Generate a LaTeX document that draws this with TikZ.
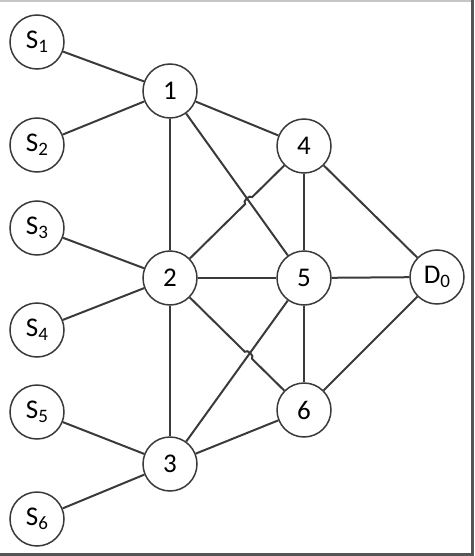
\documentclass[tikz,border=0pt]{standalone}
\usepackage{fontspec}
\setmainfont{Carlito}
\usetikzlibrary{calc}

\definecolor{edgegray}{HTML}{3A3A3A}
\definecolor{framegray}{HTML}{555555}

\tikzset{
  vertex/.style={circle, draw=edgegray, line width=1.5pt, fill=white,
    minimum size=54pt, inner sep=0pt, font=\fontsize{27}{32}\selectfont},
  link/.style={draw=edgegray, line width=2pt},
}
\newcommand{\src}[1]{S\raisebox{-0.3ex}{\fontsize{19}{19}\selectfont #1}}

\begin{document}
\begin{tikzpicture}[x=1pt,y=-1pt]

        \useasboundingbox (0,0) rectangle (474,556);
        \draw[line width=2pt, gray!45] (0,1) -- (474,1);
        \draw[line width=3pt, framegray] (472.5,0) -- (472.5,556);
        \draw[line width=3pt, framegray] (0,554.5) -- (474,554.5);

        % sources
        \node[vertex] (s1) at (37,42) {\src{1}};
        \node[vertex] (s2) at (37,145) {\src{2}};
        \node[vertex] (s3) at (37,228) {\src{3}};
        \node[vertex] (s4) at (37,330) {\src{4}};
        \node[vertex] (s5) at (37,412) {\src{5}};
        \node[vertex] (s6) at (37,519) {\src{6}};

        % relays
        \node[vertex] (n1) at (170,91) {1};
        \node[vertex] (n2) at (170,278) {2};
        \node[vertex] (n3) at (170,464) {3};
        \node[vertex] (n4) at (304,146) {4};
        \node[vertex] (n5) at (304,278) {5};
        \node[vertex] (n6) at (304,410) {6};
        \node[vertex] (d0) at (437,277) {D\raisebox{-0.3ex}{\fontsize{19}{19}\selectfont 0}};

        \path[link] (s1) -- (n1);
        \path[link] (s2) -- (n1);
        \path[link] (s3) -- (n2);
        \path[link] (s4) -- (n2);
        \path[link] (s5) -- (n3);
        \path[link] (s6) -- (n3);
        \path[link] (n1) -- (n2);
        \path[link] (n2) -- (n3);
        \path[link] (n1) -- (n4);
        \path[link] (n1) -- (n5);
        \path[link] (n2) -- (n5);
        \path[link] (n3) -- (n5);
        \path[link] (n3) -- (n6);
        \path[link] (n4) -- (n5);
        \path[link] (n5) -- (n6);
        \path[link] (n4) -- (d0);
        \path[link] (n5) -- (d0);
        \path[link] (n6) -- (d0);

        % hops
        \coordinate (x1) at (intersection of n1--n5 and n2--n4);
        \coordinate (x2) at (intersection of n2--n6 and n3--n5);
        \path[link] (n2) -- ($(x1)!5pt!(n2)$) to[bend left=90] ($(x1)!5pt!(n4)$) -- (n4);
        \path[link] (n2) -- ($(x2)!5pt!(n2)$) to[bend left=90] ($(x2)!5pt!(n6)$) -- (n6);
        \end{tikzpicture}
\end{document}
